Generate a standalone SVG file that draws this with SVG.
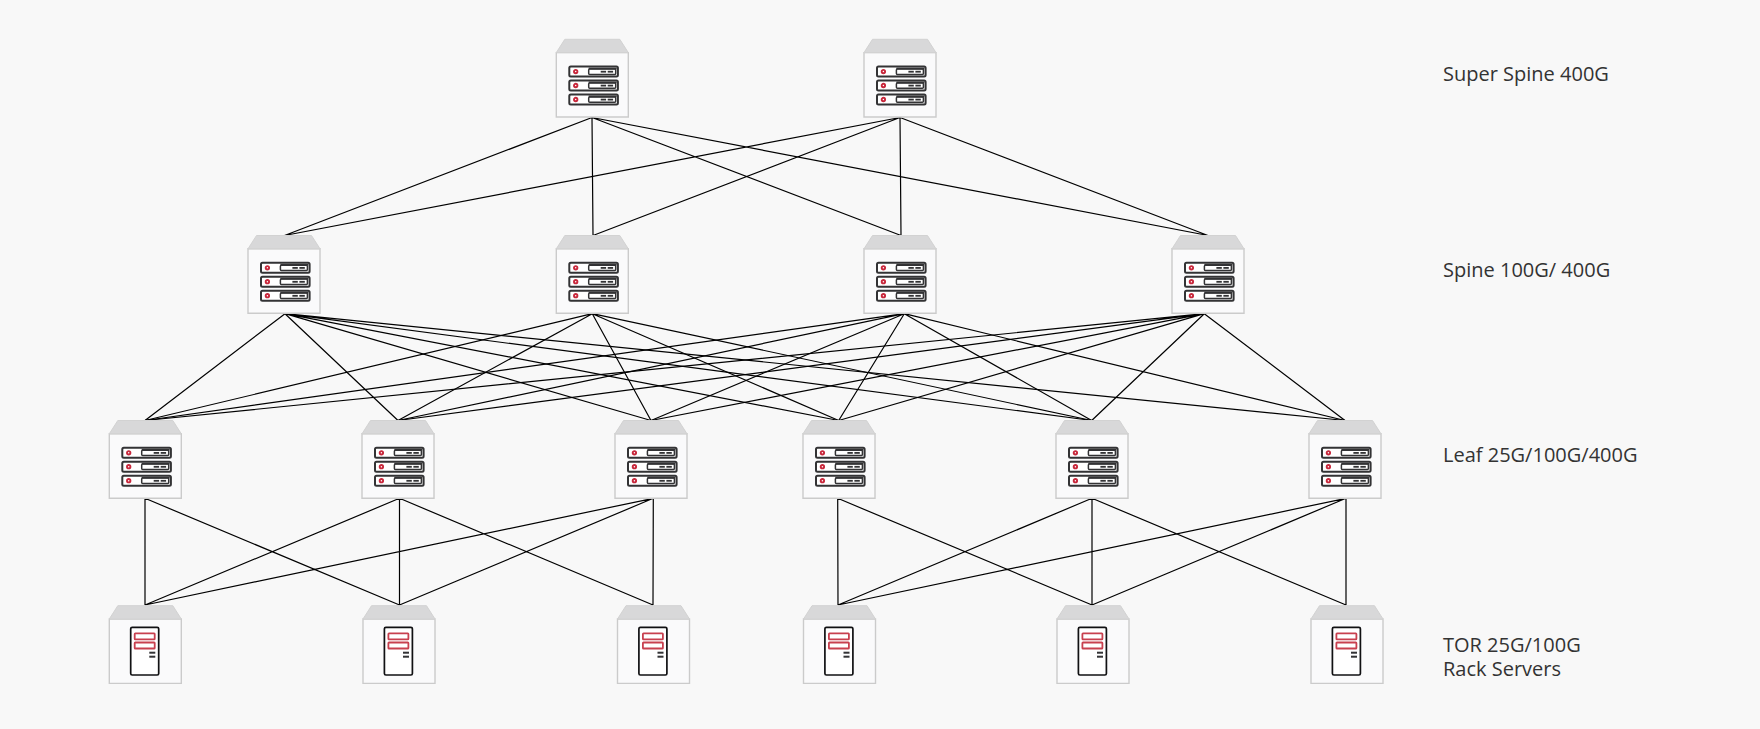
<svg xmlns="http://www.w3.org/2000/svg" width="1760" height="729" viewBox="0 0 1760 729">
<style>
.b{fill:#fafafb;stroke:#cbcbcb;stroke-width:1.4}
.r{fill:#d8d8d9;stroke:#d2d2d2;stroke-width:1}
.row{fill:#fff;stroke:#333335;stroke-width:2}
.in{fill:#fff;stroke:#333335;stroke-width:1.5}
.d{fill:#333335}
.c{fill:#fff;stroke:#c8283c;stroke-width:1.9}
.rr{fill:#fff;stroke:#c8404f;stroke-width:1.8}
.t{fill:#fff;stroke:#111113;stroke-width:1.7}
.l{fill:none;stroke:#000;stroke-width:1.2}
text{font-family:"Open Sans","Noto Sans","Liberation Sans",sans-serif;font-size:20px;fill:#333}
</style>
<defs>
<g id="box">
<path class="b" d="M-36 13.3H36V77.7H-36Z"/>
<path class="r" d="M-36 13.3L-27.5 0H27.5L36 13.3Z"/>
</g>
<g id="row">
<rect class="row" x="-23" y="0" width="48.6" height="10" rx="1.5"/>
<rect class="in" x="-3.6" y="2.4" width="27" height="5.4" rx="1"/>
<rect class="d" x="-3.6" y="1" width="28" height="1.8"/>
<rect class="d" x="8.4" y="4.2" width="5.4" height="1.8"/>
<rect class="d" x="15.4" y="4.2" width="5.4" height="1.8"/>
<circle class="c" cx="-16.6" cy="5" r="1.7"/>
</g>
<g id="sw">
<use href="#box"/>
<use href="#row" y="27.3"/>
<use href="#row" y="41.2"/>
<use href="#row" y="55.2"/>
</g>
<g id="srv">
<use href="#box"/>
<rect class="t" x="-14.6" y="21.6" width="28" height="47.7" rx="1.5"/>
<rect class="rr" x="-10.6" y="27.6" width="20" height="6" rx="0.6"/>
<rect class="rr" x="-10.6" y="36.8" width="20" height="6" rx="0.6"/>
<rect class="d" x="4" y="46" width="6" height="2"/>
<rect class="d" x="4" y="50" width="6" height="2"/>
</g>
</defs>
<rect width="1760" height="729" fill="#f8f8f8"/>
<g id="connectors">
<path class="l" d="M592 117.5L284.5 235.5M592 117.5L593 235.5M592 117.5L901 235.5M592 117.5L1208 235.5M900 117.5L284.5 235.5M900 117.5L593 235.5M900 117.5L901 235.5M900 117.5L1208 235.5"/>
<path class="l" d="M285 313.7L145 420.5M285 313.7L398 420.5M285 313.7L651 420.5M285 313.7L838.7 420.5M285 313.7L1091.7 420.5M285 313.7L1345 420.5"/>
<path class="l" d="M592.3 313.7L145 420.5M592.3 313.7L398 420.5M592.3 313.7L651 420.5M592.3 313.7L838.7 420.5M592.3 313.7L1091.7 420.5"/>
<path class="l" d="M904.3 313.7L145 420.5M904.3 313.7L398 420.5M904.3 313.7L651 420.5M904.3 313.7L838.7 420.5M904.3 313.7L1091.7 420.5M904.3 313.7L1345 420.5"/>
<path class="l" d="M1204.3 313.7L145 420.5M1204.3 313.7L398 420.5M1204.3 313.7L651 420.5M1204.3 313.7L838.7 420.5M1204.3 313.7L1091.7 420.5M1204.3 313.7L1345 420.5"/>
<path class="l" d="M145 498.3V605M145 498.3L399.5 605M399.5 498.3L145 605M399.5 498.3V605M399.5 498.3L653 605M653.3 498.3L145 605M653.3 498.3L399.5 605M653.3 498.3L653 605"/>
<path class="l" d="M837.7 498.3L838 605M837.7 498.3L1092 605M1092 498.3L838 605M1092 498.3V605M1092 498.3L1346 605M1346 498.3L838 605M1346 498.3L1092 605M1346 498.3V605"/>
</g>
<g id="superspine-1"><use href="#sw" x="592.3" y="39.3"/></g>
<g id="superspine-2"><use href="#sw" x="900" y="39.3"/></g>
<g id="spine-1"><use href="#sw" x="284" y="235.5"/></g>
<g id="spine-2"><use href="#sw" x="592.3" y="235.5"/></g>
<g id="spine-3"><use href="#sw" x="900" y="235.5"/></g>
<g id="spine-4"><use href="#sw" x="1208" y="235.5"/></g>
<g id="leaf-1"><use href="#sw" x="145.3" y="420.5"/></g>
<g id="leaf-2"><use href="#sw" x="398" y="420.5"/></g>
<g id="leaf-3"><use href="#sw" x="651" y="420.5"/></g>
<g id="leaf-4"><use href="#sw" x="839" y="420.5"/></g>
<g id="leaf-5"><use href="#sw" x="1092" y="420.5"/></g>
<g id="leaf-6"><use href="#sw" x="1345" y="420.5"/></g>
<g id="tor-1"><use href="#srv" x="145.3" y="605.7"/></g>
<g id="tor-2"><use href="#srv" x="399" y="605.7"/></g>
<g id="tor-3"><use href="#srv" x="653.5" y="605.7"/></g>
<g id="tor-4"><use href="#srv" x="839.5" y="605.7"/></g>
<g id="tor-5"><use href="#srv" x="1093" y="605.7"/></g>
<g id="tor-6"><use href="#srv" x="1347" y="605.7"/></g>
<g id="labels">
<text x="1443" y="80.7">Super Spine 400G</text>
<text x="1443" y="276.7">Spine 100G/ 400G</text>
<text x="1443" y="461.7">Leaf 25G/100G/400G</text>
<text x="1443" y="651.8">TOR 25G/100G</text>
<text x="1443" y="676">Rack Servers</text>
</g>
</svg>
